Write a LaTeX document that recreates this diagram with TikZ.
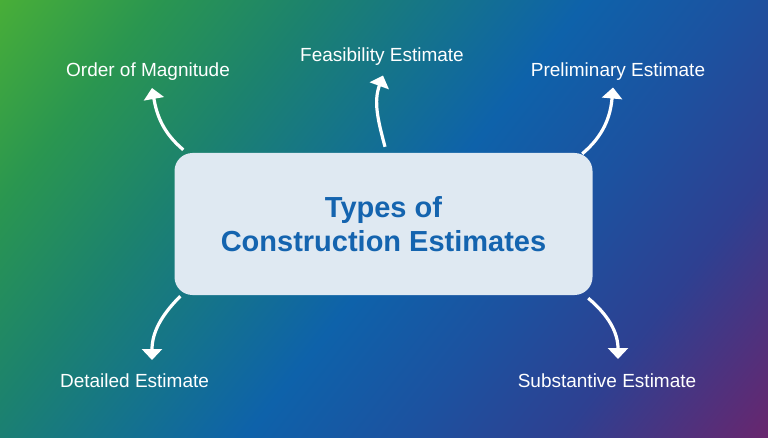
\documentclass[tikz,border=0pt]{standalone}
\usepackage{fontspec}
\setmainfont{Liberation Sans}
\usepackage{tikz}
\usetikzlibrary{positioning, arrows.meta, shapes}
\definecolor{bga}{RGB}{72,174,56}
\definecolor{bgb}{RGB}{42,150,80}
\definecolor{bgc}{RGB}{28,130,110}
\definecolor{bgd}{RGB}{20,114,142}
\definecolor{bge}{RGB}{14,98,170}
\definecolor{bgf}{RGB}{28,82,160}
\definecolor{bgg}{RGB}{46,64,145}
\definecolor{bgh}{RGB}{104,38,110}
\definecolor{boxfill}{RGB}{223,233,242}
\definecolor{ttl}{RGB}{20,100,175}
\pgfdeclarehorizontalshading{bgshade}{100bp}{color(0bp)=(bga); color(15bp)=(bga);
  color(25bp)=(bgb); color(35bp)=(bgc); color(44bp)=(bgd); color(52bp)=(bge);
  color(62bp)=(bgf); color(72bp)=(bgg); color(85bp)=(bgh); color(100bp)=(bgh)}

\begin{document}
\begin{tikzpicture}[x=1pt, y=1pt,
                    every node/.style = {text=white, anchor=base, font=\fontsize{19}{23}\selectfont},
                    every edge/.style = {draw=white, line width=3.2pt, -{Triangle[width=20pt,length=11pt]}},
                    mainbox/.style = {anchor=center, fill=boxfill, text=ttl, rounded corners=18pt,
                                      minimum width=418pt, minimum height=142pt, inner sep=0pt,
                                      align=center, font=\fontsize{29}{34}\selectfont\bfseries}]
                \useasboundingbox (0,0) rectangle (768,437);
                \shade[shading=bgshade, shading angle=-38] (0,0) rectangle (768,437);
                \node (box) [mainbox] at (383.5,213) {Types of\\Construction Estimates};
                \node (order) at (148,360.5) {Order of Magnitude};
                \node (feas) at (382,375.5) {Feasibility Estimate};
                \node (prelim) at (618,360.5) {Preliminary Estimate};
                \node (detail) at (134.5,50) {Detailed Estimate};
                \node (subst) at (607,50) {Substantive Estimate};
                \draw ([shift={(9,3)}]box.north west) edge[out=140, in=-80] ([shift={(4,-11.5)}]order.base);
                \draw ([shift={(1.5,6)}]box.north) edge[out=105, in=-110] ([shift={(1,-14)}]feas.base);
                \draw ([shift={(-10.5,-1)}]box.north east) edge[out=40, in=-95] ([shift={(-5,-11)}]prelim.base);
                \draw ([shift={(6,-1)}]box.south west) edge[out=-135, in=90] ([shift={(17.5,27)}]detail.base);
                \draw ([shift={(-4.5,-3)}]box.south east) edge[out=-40, in=90] ([shift={(11,28)}]subst.base);
            \end{tikzpicture}
\end{document}
